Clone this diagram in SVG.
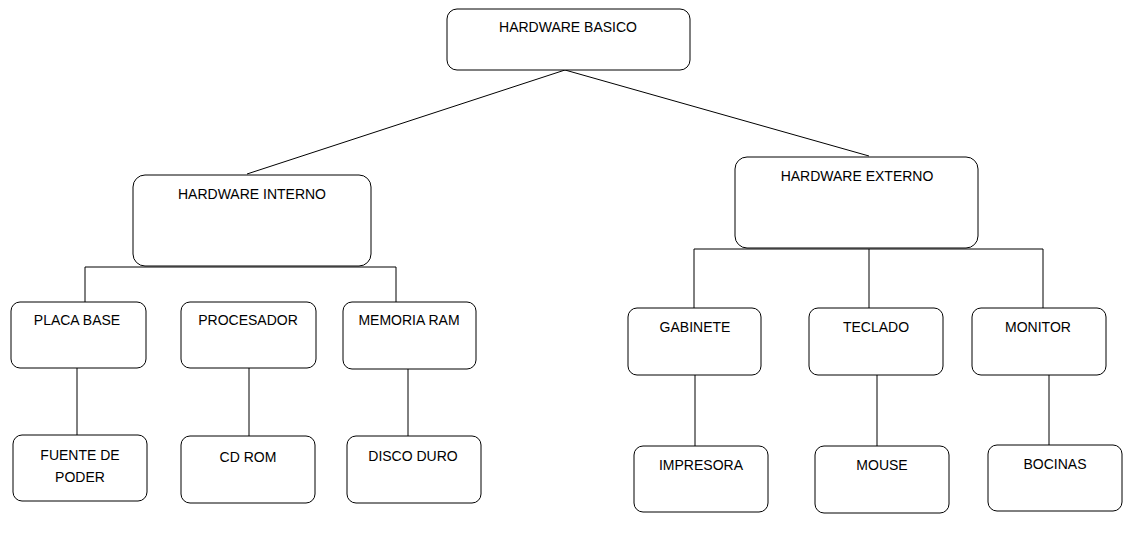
<svg xmlns="http://www.w3.org/2000/svg" width="1135" height="535" viewBox="0 0 1135 535">
<style>
rect{fill:#fff;stroke:#000;stroke-width:1}
text{font-family:"Liberation Sans",Arial,sans-serif;font-size:14px;text-anchor:middle;fill:#000}
.c line,.c polyline{stroke:#000;stroke-width:1;fill:none}
</style>
<rect width="1135" height="535" style="stroke:none"/>
<g class="c" id="connectors">
<line x1="565" y1="70" x2="247" y2="174"/>
<line x1="565" y1="70" x2="869" y2="156"/>
<polyline points="85,302 85,267 396,267 396,302"/>
<polyline points="694,308 694,249 1043,249 1043,308"/>
<line x1="869" y1="249" x2="869" y2="308"/>
<line x1="77" y1="368" x2="77" y2="435"/>
<line x1="249" y1="368" x2="249" y2="436"/>
<line x1="408" y1="369" x2="408" y2="436"/>
<line x1="695" y1="375" x2="695" y2="446"/>
<line x1="877" y1="375" x2="877" y2="446"/>
<line x1="1049" y1="375" x2="1049" y2="445"/>
</g>
<g id="basico"><rect x="447" y="9" width="243" height="61" rx="10"/><text x="568" y="32">HARDWARE BASICO</text></g>
<g id="interno"><rect x="133" y="175" width="238" height="91" rx="12"/><text x="252" y="199">HARDWARE INTERNO</text></g>
<g id="externo"><rect x="735" y="157" width="243" height="91" rx="12"/><text x="857" y="181">HARDWARE EXTERNO</text></g>
<g id="placa"><rect x="11" y="302" width="135" height="66" rx="9"/><text x="77" y="325">PLACA BASE</text></g>
<g id="procesador"><rect x="181" y="302" width="135" height="66" rx="9"/><text x="248" y="325">PROCESADOR</text></g>
<g id="memoria"><rect x="343" y="302" width="133" height="67" rx="9"/><text x="409" y="325">MEMORIA RAM</text></g>
<g id="fuente"><rect x="13" y="435" width="134" height="66" rx="9"/><text x="80" y="460">FUENTE DE</text><text x="80" y="482">PODER</text></g>
<g id="cdrom"><rect x="181" y="436" width="134" height="67" rx="9"/><text x="248" y="462">CD ROM</text></g>
<g id="disco"><rect x="347" y="436" width="134" height="67" rx="9"/><text x="413" y="461">DISCO DURO</text></g>
<g id="gabinete"><rect x="628" y="308" width="133" height="67" rx="9"/><text x="695" y="332">GABINETE</text></g>
<g id="teclado"><rect x="809" y="308" width="134" height="67" rx="9"/><text x="876" y="332">TECLADO</text></g>
<g id="monitor"><rect x="972" y="308" width="134" height="67" rx="9"/><text x="1038" y="332">MONITOR</text></g>
<g id="impresora"><rect x="634" y="446" width="134" height="66" rx="9"/><text x="701" y="470">IMPRESORA</text></g>
<g id="mouse"><rect x="815" y="446" width="134" height="67" rx="9"/><text x="882" y="470">MOUSE</text></g>
<g id="bocinas"><rect x="988" y="445" width="134" height="66" rx="9"/><text x="1055" y="469">BOCINAS</text></g>
</svg>
